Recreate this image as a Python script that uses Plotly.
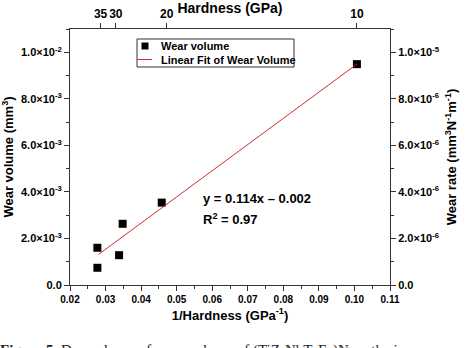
import plotly.graph_objects as go

# Data
inv_hardness = [0.0277, 0.0277, 0.0338, 0.0348, 0.0458, 0.1007]
wear_volume = [0.00160, 0.00074, 0.00128, 0.00263, 0.00354, 0.00949]
fit_x = [0.0280, 0.1007]
fit_y = [0.00131, 0.00949]
hardness_ticks = [35, 30, 20, 10]
hardness_tick_pos = [0.0286, 0.0329, 0.0472, 0.1007]   # positions as drawn on the top axis
x_ticks = [0.02, 0.03, 0.04, 0.05, 0.06, 0.07, 0.08, 0.09, 0.10, 0.11]
left_tickvals = [0, 0.002, 0.004, 0.006, 0.008, 0.010]
left_ticktext = ["0.0", "2.0×10<sup>-3</sup>", "4.0×10<sup>-3</sup>", "6.0×10<sup>-3</sup>",
                 "8.0×10<sup>-3</sup>", "1.0×10<sup>-2</sup>"]
right_tickvals = [0, 2e-6, 4e-6, 6e-6, 8e-6, 1e-5]
right_ticktext = ["0.0", "2.0×10<sup>-6</sup>", "4.0×10<sup>-6</sup>", "6.0×10<sup>-6</sup>",
                  "8.0×10<sup>-6</sup>", "1.0×10<sup>-5</sup>"]
legend_labels = ["Wear volume", "Linear Fit of Wear Volume"]

FONT = "Liberation Sans, Arial, sans-serif"
W, H = 474, 348
L, R, T, B = 70, 84, 29, 63
PW, PH = W - L - R, H - T - B


def px(x):
    return (x - L) / PW


def py(y):
    return (H - B - y) / PH


fig = go.Figure()
fig.add_trace(go.Scatter(
    x=inv_hardness, y=wear_volume, mode="markers", name=legend_labels[0],
    marker=dict(symbol="square", size=8, color="black"), showlegend=False,
))
fig.add_trace(go.Scatter(
    x=fit_x, y=fit_y, mode="lines", name=legend_labels[1],
    line=dict(color="#d42a2a", width=1), showlegend=False,
))
# helper trace to realise the top/right axes
fig.add_trace(go.Scatter(
    x=[inv_hardness[0]], y=[0], xaxis="x2", yaxis="y2", mode="markers",
    marker=dict(opacity=0), showlegend=False, hoverinfo="skip",
))


def tfont(size):
    return dict(family=FONT, size=size, color="black", weight="bold")


axis_common = dict(showgrid=False, zeroline=False, showline=True, linecolor="#333",
                   linewidth=1, ticks="outside", tickcolor="#333", ticklen=5, automargin=False,
                   tickangle=0)

fig.update_layout(
    width=W, height=H,
    margin=dict(l=L, r=R, t=T, b=B, autoexpand=False),
    paper_bgcolor="white", plot_bgcolor="white",
    font=dict(family=FONT, color="black"),
    showlegend=False,
    xaxis=dict(range=[0.02, 0.11], tickvals=x_ticks,
               ticktext=[f"{v:.2f}" for v in x_ticks], tickfont=tfont(10),
               minor=dict(dtick=0.005, tick0=0.02, ticks="outside", ticklen=3, tickcolor="#333"),
               title=dict(text="1/Hardness (GPa<sup>-1</sup>)", font=tfont(13), standoff=6),
               **axis_common),
    yaxis=dict(range=[0, 0.011], tickvals=left_tickvals, ticktext=left_ticktext, tickfont=tfont(11),
               minor=dict(dtick=0.001, tick0=0, ticks="outside", ticklen=3, tickcolor="#333"),
               title=dict(text="Wear volume (mm<sup>3</sup>)", font=tfont(13), standoff=4),
               **axis_common),
    xaxis2=dict(overlaying="x", side="top", range=[0.02, 0.11],
                tickvals=hardness_tick_pos, ticktext=[str(h) for h in hardness_ticks],
                tickfont=tfont(12),
                title=dict(text="Hardness (GPa)", font=tfont(14), standoff=0),
                **axis_common),
    yaxis2=dict(overlaying="y", side="right", range=[0, 1.1e-5],
                tickvals=right_tickvals, ticktext=right_ticktext, tickfont=tfont(11),
                minor=dict(dtick=1e-6, tick0=0, ticks="outside", ticklen=3, tickcolor="#333"),
                title=dict(text="Wear rate (mm<sup>3</sup>N<sup>-1</sup>m<sup>-1</sup>)",
                           font=tfont(13), standoff=8),
                **axis_common),
)

# Legend box drawn by hand (compact, as in the reference)
fig.add_shape(type="rect", xref="paper", yref="paper", x0=px(137), x1=px(294), y0=py(67), y1=py(39),
              line=dict(color="#333", width=1), fillcolor="white", layer="above")
fig.add_shape(type="rect", xref="paper", yref="paper", x0=px(141.5), x1=px(148.5), y0=py(49.5), y1=py(42.5),
              line=dict(color="black", width=0), fillcolor="black", layer="above")
fig.add_shape(type="line", xref="paper", yref="paper", x0=px(137), x1=px(152), y0=py(59.5), y1=py(59.5),
              line=dict(color="#d42a2a", width=1), layer="above")
for lbl, yy in zip(legend_labels, [46, 59.5]):
    fig.add_annotation(x=px(159), y=py(yy), xref="paper", yref="paper", xanchor="left", yanchor="middle",
                       text=lbl, showarrow=False, font=tfont(11))

fig.add_annotation(x=px(201), y=py(198), xref="paper", yref="paper", xanchor="left", yanchor="middle",
                   text="y = 0.114x – 0.002", showarrow=False, font=tfont(13))
fig.add_annotation(x=px(201), y=py(219), xref="paper", yref="paper", xanchor="left", yanchor="middle",
                   text="R<sup>2</sup> = 0.97", showarrow=False, font=tfont(13))
fig.add_annotation(x=px(-2), y=py(340), xref="paper", yref="paper", xanchor="left", yanchor="top",
                   text="<b>Figure 5.</b> Dependence of wear volume of (TiZrNbTaFe)N on the inverse",
                   showarrow=False,
                   font=dict(family="Liberation Serif, serif", size=15, color="#222"))

fig.write_html("out.html")
